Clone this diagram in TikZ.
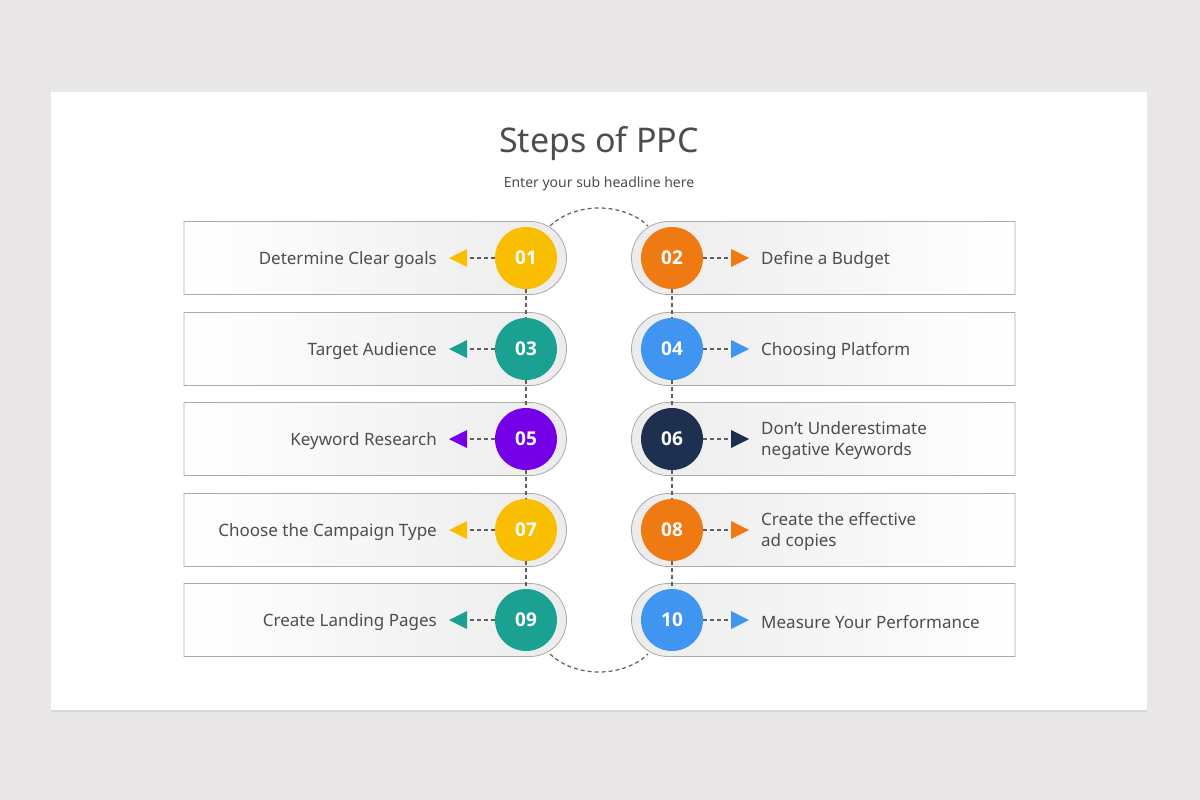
\documentclass[tikz,border=0pt]{standalone}
\usepackage{fontspec}
\setmainfont{Noto Sans}
\newfontfamily\numfont{Open Sans}[BoldFont={* Bold}]
\usetikzlibrary{shadows,calc}
\definecolor{bg}{RGB}{233,231,232}
\definecolor{cyel}{RGB}{250,190,0}
\definecolor{cora}{RGB}{240,122,18}
\definecolor{cteal}{RGB}{26,161,146}
\definecolor{cblue}{RGB}{63,149,240}
\definecolor{cpur}{RGB}{117,0,232}
\definecolor{cnavy}{RGB}{30,48,80}
\definecolor{txt}{RGB}{77,77,77}
\definecolor{edge}{RGB}{170,170,170}
\definecolor{capg}{RGB}{236,236,236}
\begin{document}
\begin{tikzpicture}[x=1pt,y=-1pt,
  num/.style={circle,minimum size=62pt,inner sep=0pt,text=white,font=\numfont\bfseries\fontsize{19}{22}\selectfont},
  lbl/.style={text=txt,font=\fontsize{17}{21}\selectfont,align=left,inner sep=0pt},
  dsh/.style={draw=txt!90,dashed,dash pattern=on 4pt off 3pt,line width=1.2pt}]
\fill[bg] (0,0) rectangle (1200,800);
\fill[white,drop shadow={shadow xshift=0pt,shadow yshift=-2pt,opacity=0.15}] (51,92) rectangle (1147,710);
\node[text=txt,font=\fontsize{34}{40}\selectfont] (title) at (599,144) {Steps of PPC};
\node[text=txt,font=\fontsize{14}{17}\selectfont] (sub) at (599,184) {Enter your sub headline here};
\draw[dsh] (550,226) .. controls (575,202) and (623,202) .. (648,226);
\draw[dsh] (550,654) .. controls (575,678) and (623,678) .. (648,654);
\foreach \y in {258,349,439,530,620}{
  \draw[edge,line width=0.8pt,left color=white,right color=capg] (184,\y-36.5) -- (530,\y-36.5) arc[start angle=-90,end angle=90,radius=36.5] -- (184,\y+36.5) -- cycle;
  \draw[edge,line width=0.8pt,right color=white,left color=capg] (1015,\y-36.5) -- (668,\y-36.5) arc[start angle=-90,end angle=-270,radius=36.5] -- (1015,\y+36.5) -- cycle;
}
\foreach \y in {258,349,439,530}{
  \draw[dsh] (526,\y+31) -- (526,\y+60);
  \draw[dsh] (672,\y+31) -- (672,\y+60);
}
\newcommand{\leftstep}[4]{%
  \node[num,fill=#3] (c#1) at (526,#2) {#1};
  \coordinate (t#1) at (467,#2);
  \draw[dsh] (c#1.west) -- (t#1);
  \fill[#3] (449,#2) -- (467,#2-9) -- (467,#2+9) -- cycle;
  \node[lbl,anchor=east] (l#1) at (437,#2+2) {#4};}
\newcommand{\rightstep}[4]{%
  \node[num,fill=#3] (c#1) at (672,#2) {#1};
  \coordinate (t#1) at (731,#2);
  \draw[dsh] (c#1.east) -- (t#1);
  \fill[#3] (749,#2) -- (731,#2-9) -- (731,#2+9) -- cycle;
  \node[lbl,anchor=west] (l#1) at (761,#2+2) {#4};}
\leftstep{01}{258}{cyel}{Determine Clear goals}
\rightstep{02}{258}{cora}{Define a Budget}
\leftstep{03}{349}{cteal}{Target Audience}
\rightstep{04}{349}{cblue}{Choosing Platform}
\leftstep{05}{439}{cpur}{Keyword Research}
\rightstep{06}{439}{cnavy}{Don’t Underestimate\\negative Keywords}
\leftstep{07}{530}{cyel}{Choose the Campaign Type}
\rightstep{08}{530}{cora}{Create the effective\\ad copies}
\leftstep{09}{620}{cteal}{Create Landing Pages}
\rightstep{10}{620}{cblue}{Measure Your Performance}
\end{tikzpicture}
\end{document}
